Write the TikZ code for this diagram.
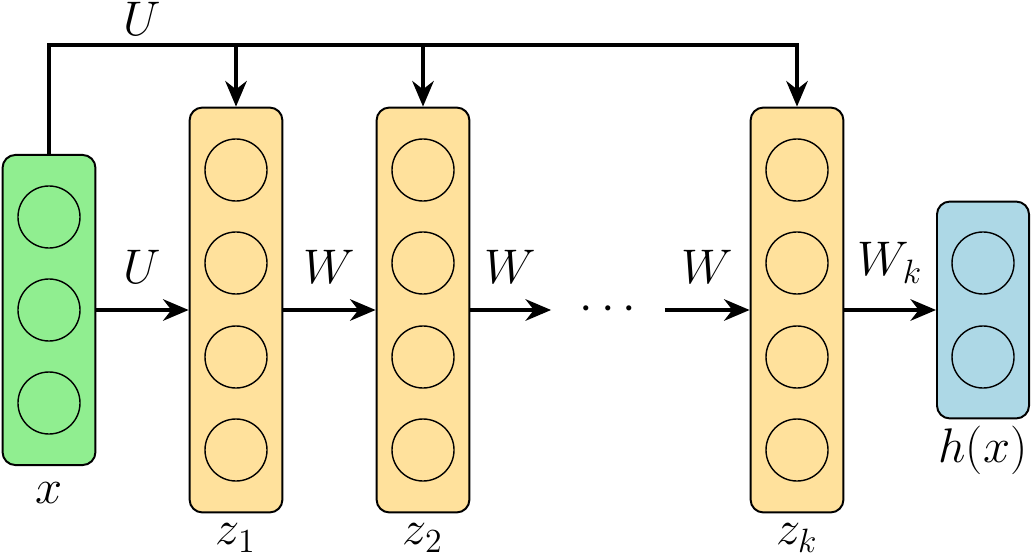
\documentclass[tikz,border=0pt]{standalone}
\usetikzlibrary{arrows.meta,positioning}
\definecolor{InputGreen}{HTML}{90EE90}
\definecolor{HiddenSand}{HTML}{FFE19C}
\definecolor{OutputBlue}{HTML}{ADD8E6}

\begin{document}
\begin{tikzpicture}[x=0.0125cm,y=-0.0125cm,
      layer/.style={rectangle,draw,line width=0.7pt,rounded corners=1.6mm,
      minimum width=1.16cm,minimum height=5.06cm,fill=HiddenSand},
      unit/.style={circle,draw,line width=0.5pt,minimum size=0.775cm,inner sep=0pt},
      arr/.style={-{Stealth[length=3.2mm,width=2.7mm]},line width=1.1pt},
      lbl/.style={font=\fontsize{17}{20}\selectfont}]
      \useasboundingbox (0,0) rectangle (1031,558);
      % layers
      \node[layer,fill=InputGreen,minimum height=3.875cm] (x) at (49,310) {};
      \node[layer] (z1) at (236,310) {};
      \node[layer] (z2) at (423,310) {};
      \node[layer] (zk) at (797,310) {};
      \node[layer,fill=OutputBlue,minimum height=2.71cm,minimum width=1.15cm] (h) at (983,310) {};
      % units
      \foreach \i/\y in {1/217,2/310,3/403}
        \node[unit] (x-\i) at (49,\y) {};
      \foreach \l/\cx in {z1/236,z2/423,zk/797}
        \foreach \i/\y in {1/170,2/263,3/357,4/450}
          \node[unit] (\l-\i) at (\cx,\y) {};
      \foreach \i/\y in {1/263,2/357}
        \node[unit] (h-\i) at (983,\y) {};
      % names
      \node[lbl] (xname) at (49,493) {$x$};
      \node[lbl] (z1name) at (236,538) {$z_1$};
      \node[lbl] (z2name) at (423,538) {$z_2$};
      \node[lbl] (zkname) at (797,538) {$z_k$};
      \node[lbl] (hname) at (983,450) {$h(x)$};
      % chain
      \node[lbl,inner xsep=3.5mm] (dots) at (608,310) {$\cdots$};
      \draw[arr] (x.east) -- node[lbl,above=2mm] {$U$} (z1.west);
      \draw[arr] (z1.east) -- node[lbl,above=2mm] {$W$} (z2.west);
      \draw[arr] (z2.east) -- node[lbl,above=2mm] {$W$} (dots.west);
      \draw[arr] (dots.east) -- node[lbl,above=2mm] {$W$} (zk.west);
      \draw[arr] (zk.east) -- node[lbl,above=2mm] {$W_k$} (h.west);
      % skip connection
      \coordinate (bus) at (49,45);
      \node[lbl] (busname) at (142,19) {$U$};
      \draw[arr] (x.north) -- (bus) -| (zk.north);
      \draw[arr] (bus -| z1.north) -- (z1.north);
      \draw[arr] (bus -| z2.north) -- (z2.north);
    \end{tikzpicture}
\end{document}
